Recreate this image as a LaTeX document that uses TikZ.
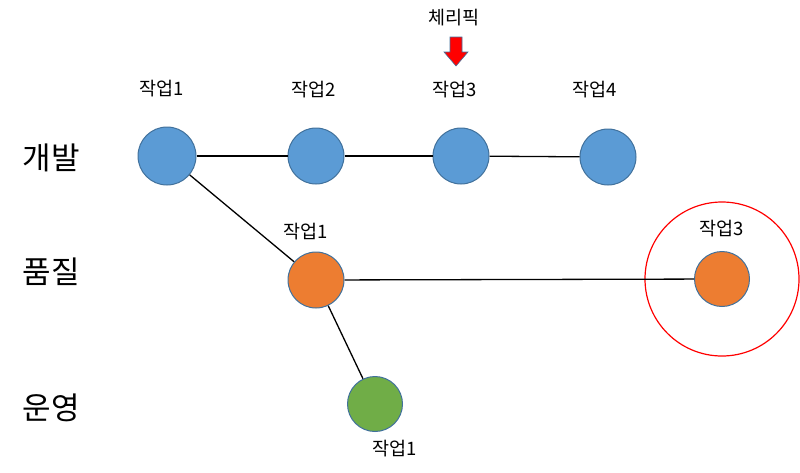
\documentclass[tikz,border=0pt]{standalone}
\usepackage{fontspec}
\setmainfont{Noto Sans CJK KR}
\definecolor{cblue}{HTML}{5B9BD5}
\definecolor{corange}{HTML}{ED7D31}
\definecolor{cgreen}{HTML}{70AD47}
\definecolor{cedge}{HTML}{41719C}
\begin{document}
\begin{tikzpicture}[x=1pt,y=-1pt,
  job/.style={circle,draw=cedge,line width=1pt,inner sep=0pt,minimum size=56pt},
  lbl/.style={font=\fontsize{18.5}{20}\selectfont,inner sep=0pt},
  row/.style={font=\fontsize{31}{34}\selectfont,inner sep=0pt},
  link/.style={draw=black,line width=1.3pt}]
\useasboundingbox (0,0) rectangle (800,472);
\node[job,fill=cblue,minimum size=58pt] (d1) at (167,156) {};
\node[job,fill=cblue] (d2) at (316,156) {};
\node[job,fill=cblue] (d3) at (461,156) {};
\node[job,fill=cblue] (d4) at (608,157) {};
\node[job,fill=corange] (q1) at (316,280) {};
\node[job,fill=corange,minimum size=55pt] (q3) at (722,279) {};
\node[job,fill=cgreen,minimum size=55pt] (o1) at (375,404) {};
\node[circle,draw=red,line width=1.2pt,minimum size=154pt,inner sep=0pt] (hl) at (722,279) {};
\draw[link] (d1) -- (d2);
\draw[link] (d2) -- (d3);
\draw[link] (d3) -- (d4);
\draw[link] (d1) -- (q1);
\draw[link] (q1) -- (q3);
\draw[link] (q1) -- (o1);
\node[lbl] (l1) at (162,89) {작업1};
\node[lbl] (l2) at (314,90) {작업2};
\node[lbl] (l3) at (455,90) {작업3};
\node[lbl] (l4) at (595,90) {작업4};
\node[lbl] (lq1) at (306,232) {작업1};
\node[lbl] (lq3) at (722,229) {작업3};
\node[lbl] (lo1) at (395,449) {작업1};
\node[lbl] (cp) at (454,18) {체리픽};
\draw[fill=red,draw=cedge,line width=0.6pt]
  (450,37) -- (462,37) -- (462,52) -- (468,52) -- (456,66) -- (444,52) -- (450,52) -- cycle;
\node[row] (r1) at (51,158) {개발};
\node[row] (r2) at (51,272) {품질};
\node[row] (r3) at (51,408) {운영};
\end{tikzpicture}
\end{document}
